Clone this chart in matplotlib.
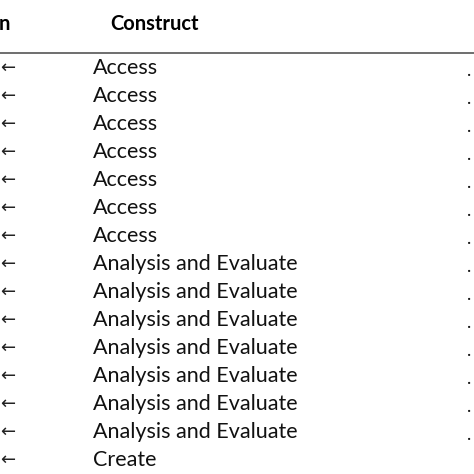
import matplotlib
matplotlib.use("Agg")
import matplotlib.pyplot as plt

header_left = "n"
header_construct = "Construct"
constructs = ["Access"] * 7 + ["Analysis and Evaluate"] * 7 + ["Create"]
arrows = ["←"] * len(constructs)
tail = ["."] * (len(constructs) - 1) + [""]

fig = plt.figure(figsize=(4.74, 4.74), dpi=100)
ax = fig.add_axes([0, 0, 1, 1])
ax.set_xlim(0, 474)
ax.set_ylim(474, 0)
ax.axis("off")
fam = ["Lato", "DejaVu Sans"]

ax.text(-1, 24, header_left, fontsize=14.5, fontweight="bold", family=fam, va="center", ha="left")
ax.text(110, 24, header_construct, fontsize=14.5, fontweight="bold", family=fam, va="center", ha="left")
ax.plot([0, 474], [52.5, 52.5], color="#555555", lw=1.2)

for i, (a, c, t) in enumerate(zip(arrows, constructs, tail)):
    y = 68 + i * 28
    ax.text(0, y, a, fontsize=13, family=["DejaVu Sans"], va="center", ha="left", color="#222222")
    ax.text(93, y, c, fontsize=15.5, family=fam, va="center", ha="left", color="#111111")
    if t:
        ax.text(467, y + 3, t, fontsize=13, family=fam, va="center", ha="left", color="#111111")

fig.savefig("out.png", dpi=100)
